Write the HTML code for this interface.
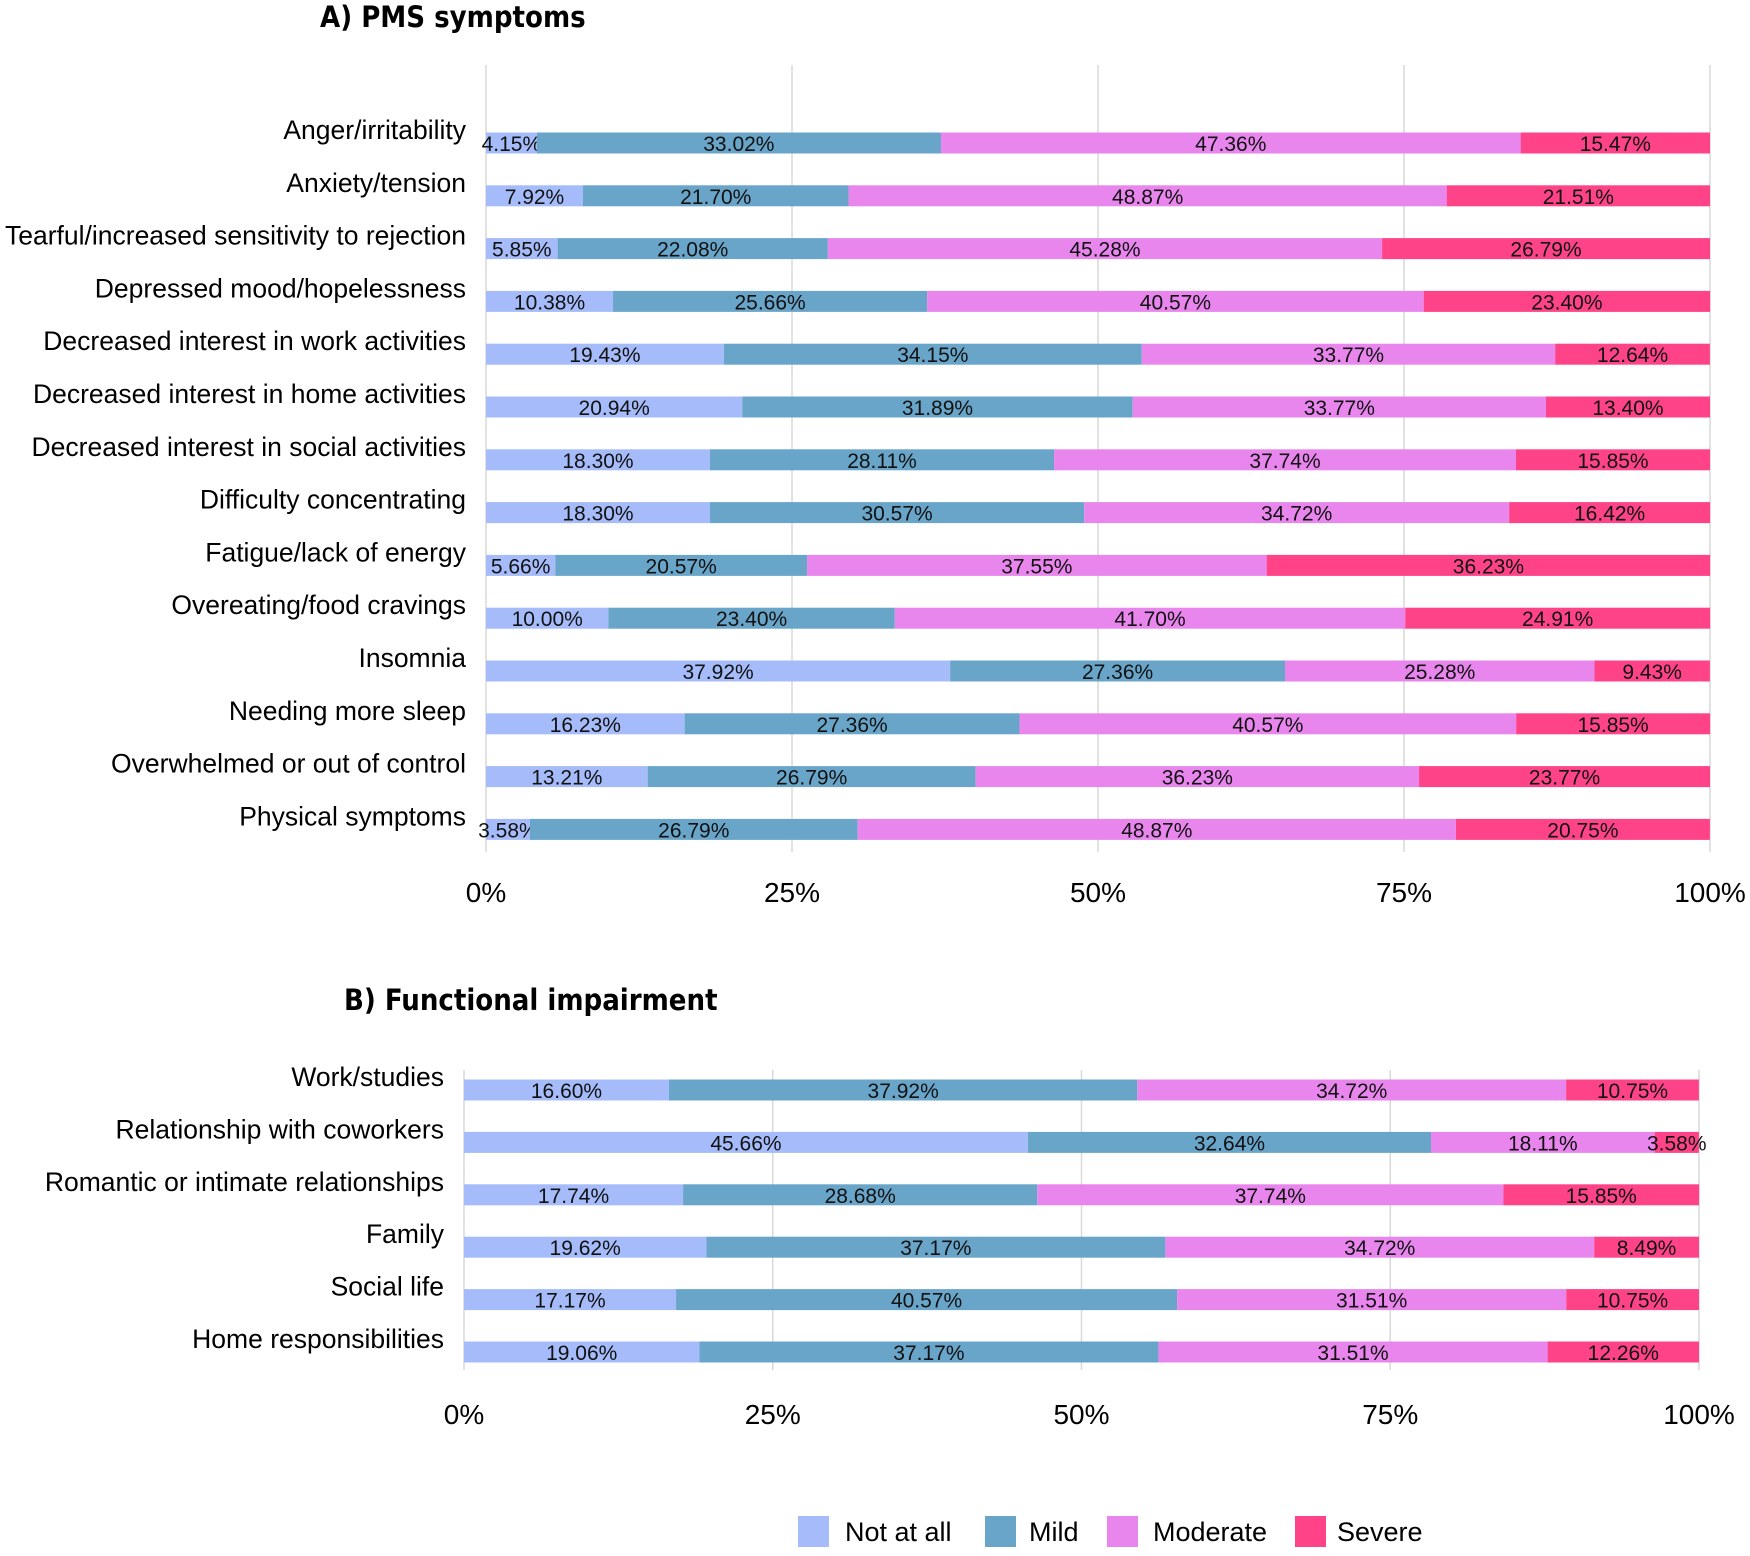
<!DOCTYPE html>
<html><head><meta charset="utf-8"><style>
body{margin:0;background:#fff;}
svg text{font-family:"Liberation Sans",sans-serif;}
</style></head><body>
<svg id="c" width="1750" height="1551" xmlns="http://www.w3.org/2000/svg">
<text x="320" y="27" font-size="29" font-weight="bold" style="font-family:'DejaVu Sans Condensed','Liberation Sans',sans-serif">A) PMS symptoms</text>
<text x="344" y="1010" font-size="29" font-weight="bold" style="font-family:'DejaVu Sans Condensed','Liberation Sans',sans-serif">B) Functional impairment</text>
</svg>
<script>
const catsA=["Anger/irritability","Anxiety/tension","Tearful/increased sensitivity to rejection","Depressed mood/hopelessness","Decreased interest in work activities","Decreased interest in home activities","Decreased interest in social activities","Difficulty concentrating","Fatigue/lack of energy","Overeating/food cravings","Insomnia","Needing more sleep","Overwhelmed or out of control","Physical symptoms"];
const notA=[4.15,7.92,5.85,10.38,19.43,20.94,18.30,18.30,5.66,10.00,37.92,16.23,13.21,3.58];
const mildA=[33.02,21.70,22.08,25.66,34.15,31.89,28.11,30.57,20.57,23.40,27.36,27.36,26.79,26.79];
const modA=[47.36,48.87,45.28,40.57,33.77,33.77,37.74,34.72,37.55,41.70,25.28,40.57,36.23,48.87];
const sevA=[15.47,21.51,26.79,23.40,12.64,13.40,15.85,16.42,36.23,24.91,9.43,15.85,23.77,20.75];
const catsB=["Work/studies","Relationship with coworkers","Romantic or intimate relationships","Family","Social life","Home responsibilities"];
const notB=[16.60,45.66,17.74,19.62,17.17,19.06];
const mildB=[37.92,32.64,28.68,37.17,40.57,37.17];
const modB=[34.72,18.11,37.74,34.72,31.51,31.51];
const sevB=[10.75,3.58,15.85,8.49,10.75,12.26];
const ticks=[0,25,50,75,100];
const tickLabels=["0%","25%","50%","75%","100%"];
const levels=["Not at all","Mild","Moderate","Severe"];
const colors=["#a6bcfa","#69a5c9","#e886ee","#fe4388"];
const NS="http://www.w3.org/2000/svg";
const svg=document.getElementById('c');
function mk(t,a){const e=document.createElementNS(NS,t);for(const k in a)e.setAttribute(k,a[k]);svg.appendChild(e);return e;}
function chart(cfg,cats,series){
  const sx=v=>cfg.x0+(cfg.x1-cfg.x0)*v/100;
  const sy=i=>cfg.y0+i*cfg.step;
  ticks.forEach((t,i)=>{
    const g=mk('line',{x1:sx(t),x2:sx(t),y1:cfg.gt,y2:cfg.gb,stroke:'#d9d9d9','stroke-width':1.5});
    
    
    const tl=mk('text',{x:sx(t),y:cfg.ty,'font-size':28,'text-anchor':'middle',fill:'#000'});
    tl.textContent=tickLabels[i];
    
    
  });
  cats.forEach((c,i)=>{
    const l=mk('text',{x:cfg.lx,y:sy(i)-4,'font-size':26.5,'text-anchor':'end',fill:'#000'});
    l.textContent=c;
    
    
    let acc=0;
    series.forEach((s,k)=>{
      const v=s[i];
      const r=mk('rect',{x:sx(acc),y:sy(i)-10.5,width:sx(acc+v)-sx(acc),height:21,fill:colors[k]});
      
      
      const tx=mk('text',{x:(sx(acc)+sx(acc+v))/2,y:sy(i)+8,'font-size':21,'text-anchor':'middle',fill:'#111'});
      tx.textContent=v.toFixed(2)+'%';
      
      
      acc+=v;
    });
  });
}
chart({x0:486,x1:1710,y0:143,step:52.8,gt:65,gb:852,ty:902,lx:466},catsA,[notA,mildA,modA,sevA]);
chart({x0:464,x1:1699,y0:1090,step:52.4,gt:1070,gb:1370,ty:1424,lx:444},catsB,[notB,mildB,modB,sevB]);
const lgx=[798,985,1107,1295],ltx=[845,1029,1153,1337];
levels.forEach((n,k)=>{
  const s=mk('rect',{x:lgx[k],y:1516,width:31,height:31,fill:colors[k]});
  
  
  const t=mk('text',{x:ltx[k],y:1541,'font-size':27,fill:'#000'});
  t.textContent=n;
  
  
});
</script>
</body></html>
